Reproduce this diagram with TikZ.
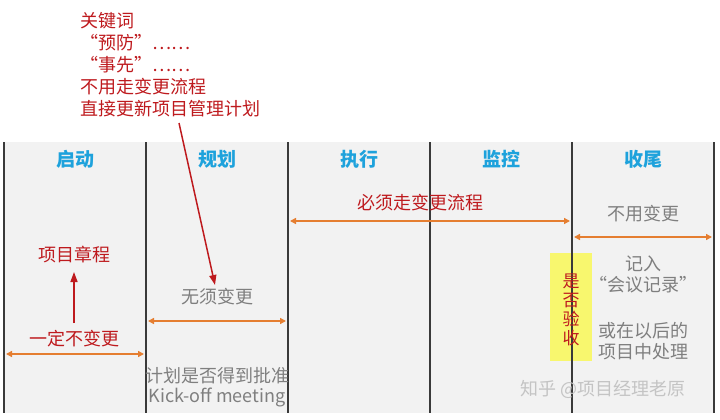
\documentclass[tikz,border=0pt]{standalone}
\usepackage{fontspec}
\setmainfont{Noto Sans CJK SC}
\usetikzlibrary{arrows.meta}
\definecolor{panelbg}{HTML}{F2F2F2}
\definecolor{divline}{HTML}{3A3A3A}
\definecolor{titleblue}{HTML}{1EA2DC}
\definecolor{darkred}{HTML}{BE1A1E}
\definecolor{arrorange}{HTML}{E57E31}
\definecolor{txtgray}{HTML}{7F7F7F}
\definecolor{hlyellow}{HTML}{F8F76E}
\definecolor{wmgray}{HTML}{C4C4C4}
\tikzset{
  divider/.style={draw=divline, line width=1.4pt},
  phasetitle/.style={font=\fontsize{19}{21}\selectfont\bfseries, text=titleblue, inner sep=0pt},
  redtxt/.style={font=\fontsize{18}{22}\selectfont, text=darkred, inner sep=0pt},
  graytxt/.style={font=\fontsize{18}{22}\selectfont, text=txtgray, inner sep=0pt, align=center},
  orangearrow/.style={draw=arrorange, line width=1.4pt, {Triangle[length=6pt,width=6pt]}-{Triangle[length=6pt,width=6pt]}},
  redarrow/.style={draw=darkred, line width=1.5pt, -{Triangle[length=10pt,width=7pt]}},
}
\begin{document}
\begin{tikzpicture}[x=1pt,y=-1pt]
\useasboundingbox (0,0) rectangle (720,420);
% panel background
\fill[panelbg] (4,142) rectangle (714,413);
% yellow highlight
\fill[hlyellow] (550,253) rectangle (592,361);
% dividers
\foreach \x in {4,146,288,430,572,714} {
  \draw[divider] (\x,142) -- (\x,413);
}
% phase titles
\node[phasetitle] (t1) at (75,159) {启动};
\node[phasetitle] (t2) at (217,159) {规划};
\node[phasetitle] (t3) at (359,159) {执行};
\node[phasetitle] (t4) at (501,159) {监控};
\node[phasetitle] (t5) at (643,159) {收尾};
% keyword block
\node[redtxt, anchor=west] (kw1) at (80,21) {关键词};
\node[redtxt, anchor=west] (kw2) at (80,43) {“预防”……};
\node[redtxt, anchor=west] (kw3) at (80,65) {“事先”……};
\node[redtxt, anchor=west] (kw4) at (80,87) {不用走变更流程};
\node[redtxt, anchor=west] (kw5) at (80,109) {直接更新项目管理计划};
% initiation column
\node[redtxt] (charter) at (74,255) {项目章程};
\node[redtxt] (nochange) at (74,339) {一定不变更};
% planning column
\node[graytxt] (wuxu) at (217,297) {无须变更};
\node[graytxt] (approve) at (217,376) {计划是否得到批准};
\node[graytxt] (kickoff) at (217,397) {Kick-off meeting};
% execution / monitoring
\node[redtxt] (must) at (420,203) {必须走变更流程};
% closing
\node[graytxt] (buyong) at (643,214) {不用变更};
\node[graytxt] (jiru) at (643,274) {记入\\[-1pt]“会议记录”};
\node[graytxt] (huozai) at (643,341) {或在以后的\\[-1pt]项目中处理};
\node[font=\fontsize{17}{19}\selectfont, text=darkred, inner sep=0pt, align=center] (accept) at (571,310) {是\\否\\验\\收};
% watermark
\node[font=\fontsize{18}{20}\selectfont, text=wmgray, inner sep=0pt] (wm) at (603,389) {知乎 @项目经理老原};
% red arrows
\coordinate (kwtail) at (179,123);
\coordinate (kwhead) at (215,285);
\draw[redarrow] (kwtail) -- (kwhead);
\coordinate (uptail) at (74,323);
\coordinate (uphead) at (74,272);
\draw[redarrow] (uptail) -- (uphead);
% orange double arrows
\coordinate (a1l) at (6,354);   \coordinate (a1r) at (144,354);
\coordinate (a2l) at (148,321); \coordinate (a2r) at (286,321);
\coordinate (a3l) at (290,221); \coordinate (a3r) at (570,221);
\coordinate (a4l) at (574,237); \coordinate (a4r) at (712,237);
\draw[orangearrow] (a1l) -- (a1r);
\draw[orangearrow] (a2l) -- (a2r);
\draw[orangearrow] (a3l) -- (a3r);
\draw[orangearrow] (a4l) -- (a4r);
\end{tikzpicture}
\end{document}
